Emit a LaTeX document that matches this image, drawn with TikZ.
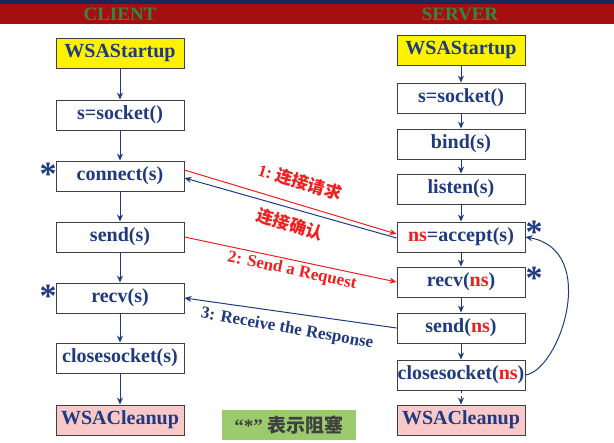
\documentclass[tikz,border=0pt]{standalone}
\usepackage{fontspec}
\setmainfont{Liberation Serif}
\newfontfamily\cjk{Noto Sans CJK SC}
\usetikzlibrary{arrows.meta}
\definecolor{tblue}{HTML}{1F3A80}
\definecolor{tred}{HTML}{F01E1E}
\definecolor{band}{HTML}{A50F0F}
\definecolor{tgreen}{HTML}{2E8B3E}
\definecolor{pinkf}{HTML}{F9C8C8}
\definecolor{legf}{HTML}{9CCB6E}
\begin{document}
\begin{tikzpicture}[x=1pt,y=-1pt,
 box/.style={draw=black!75,line width=0.9pt,fill=white,minimum width=128pt,minimum height=30pt,inner sep=0pt,font=\bfseries\fontsize{20}{20}\selectfont,text=tblue},
 arr/.style={-{Stealth[length=7pt,width=6pt]},line width=1pt},
 lab/.style={font=\bfseries\fontsize{17}{17}\selectfont},
 star/.style={font=\bfseries\fontsize{34}{34}\selectfont,text=tblue}]
\useasboundingbox (0,0) rectangle (614,443);
\fill[tblue!70!black] (0,0) rectangle (614,4);
\fill[band] (0,4) rectangle (614,24);
\node[font=\bfseries\fontsize{19}{19}\selectfont,text=tgreen] (ct) at (120,14) {CLIENT};
\node[font=\bfseries\fontsize{19}{19}\selectfont,text=tgreen] (st) at (460,14) {SERVER};
% client
\node[box,fill=yellow] (c1) at (120,53) {WSAStartup};
\node[box] (c2) at (120,115) {s=socket()};
\node[box] (c3) at (120,176) {connect(s)};
\node[box] (c4) at (120,237) {send(s)};
\node[box] (c5) at (120,298) {recv(s)};
\node[box] (c6) at (120,358) {closesocket(s)};
\node[box,fill=pinkf] (c7) at (120,420) {WSACleanup};
% server
\node[box,fill=yellow] (s1) at (461,50) {WSAStartup};
\node[box] (s2) at (461,98) {s=socket()};
\node[box] (s3) at (461,144) {bind(s)};
\node[box] (s4) at (461,189) {listen(s)};
\node[box] (s5) at (461,237) {\textcolor{tred}{ns}=accept(s)};
\node[box] (s6) at (461,282) {recv(\textcolor{tred}{ns})};
\node[box] (s7) at (461,328) {send(\textcolor{tred}{ns})};
\node[box] (s8) at (461,375) {closesocket(\textcolor{tred}{ns})};
\node[box,fill=pinkf] (s9) at (461,420) {WSACleanup};
\foreach \a/\b in {c1/c2,c2/c3,c3/c4,c4/c5,c5/c6,c6/c7,s1/s2,s2/s3,s3/s4,s4/s5,s5/s6,s6/s7,s7/s8}
 \draw[arr,tblue] (\a) -- (\b);
\draw[arr,tblue,dashed] (s8) -- (s9);
% messages
\draw[arr,tred] ([yshift=6pt]c3.east) -- ([yshift=3pt]s5.west);
\draw[arr,tblue] ([yshift=-1pt]s5.west) -- ([yshift=-2pt]c3.east);
\draw[arr,tred] (c4.east) -- (s6.west);
\draw[arr,tblue] (s7.west) -- (c5.east);
\draw[arr,tblue] (s8.east) .. controls (560,370) and (600,250) .. (s5.east);
\node[lab,text=tred,rotate=-17] (l1) at (300,182) {1:\ {\cjk 连接请求}};
\node[lab,text=tred,rotate=-17] (l2) at (290,224) {\cjk 连接确认};
\node[lab,text=tred,rotate=-12] (l3) at (292,271) {2: Send a Request};
\node[lab,text=tblue,rotate=-10] (l4) at (287,329) {3: Receive the Response};
\node[star] (k1) at (48,174) {*};
\node[star] (k2) at (48,296) {*};
\node[star] (k3) at (534,232) {*};
\node[star] (k4) at (534,278) {*};
\node[fill=legf,minimum width=134pt,minimum height=30pt,font=\fontsize{19}{19}\selectfont,text=black!75] (leg) at (289,425) {\bfseries “*”\ {\cjk 表示阻塞}};
\end{tikzpicture}
\end{document}
